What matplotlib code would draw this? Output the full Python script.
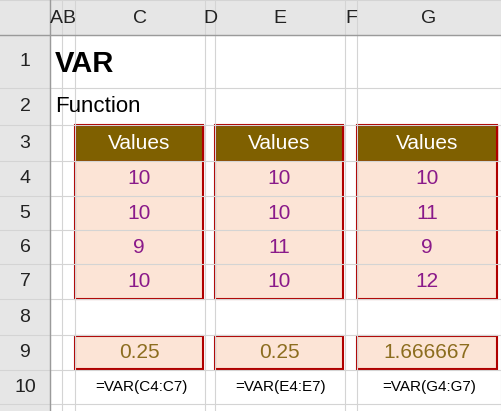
import matplotlib
matplotlib.use("Agg")
import matplotlib.pyplot as plt
from matplotlib.patches import Rectangle

plt.rcParams["font.family"] = ["Liberation Sans", "DejaVu Sans"]

col_names = ["A", "B", "C", "D", "E", "F", "G"]
col_edges = [50, 62, 75, 205, 215, 345, 357, 501]
row_edges = [0, 35, 88, 125, 161, 196, 230, 264, 299, 335, 370, 404, 411]
row_labels = ["1", "2", "3", "4", "5", "6", "7", "8", "9", "10"]

title = "VAR"
subtitle = "Function"
header = "Values"
values_c = [10, 10, 9, 10]
values_e = [10, 10, 11, 10]
values_g = [10, 11, 9, 12]
results = ["0.25", "0.25", "1.666667"]
formulas = ["=VAR(C4:C7)", "=VAR(E4:E7)", "=VAR(G4:G7)"]

GRID = "#d4d4d4"
HEAD_BG = "#e6e6e6"
BORDER = "#b00000"
HEAD_FILL = "#7f6000"
CELL_FILL = "#fce4d6"
PURPLE = "#8a1a8a"
GOLD = "#8c6d1f"

fig = plt.figure(figsize=(5.01, 4.11), dpi=100)
ax = fig.add_axes([0, 0, 1, 1])
ax.set_xlim(0, 501)
ax.set_ylim(411, 0)
ax.axis("off")

# headers
ax.add_patch(Rectangle((0, 0), 501, row_edges[1], color=HEAD_BG, lw=0))
ax.add_patch(Rectangle((0, 0), col_edges[0], 411, color=HEAD_BG, lw=0))
for x in col_edges:
    ax.plot([x, x], [0, 411], color=GRID, lw=0.8)
for y in row_edges[:-1]:
    ax.plot([0, 501], [y, y], color=GRID, lw=0.8)
ax.plot([0, 501], [row_edges[1]] * 2, color="#9a9a9a", lw=1)
ax.plot([col_edges[0]] * 2, [0, 411], color="#9a9a9a", lw=1)
for i, name in enumerate(col_names):
    ax.text((col_edges[i] + col_edges[i + 1]) / 2, row_edges[1] / 2 + 1, name,
            ha="center", va="center", fontsize=14, color="#222222")
for i, lab in enumerate(row_labels):
    ax.text(col_edges[0] / 2, (row_edges[i + 1] + row_edges[i + 2]) / 2, lab,
            ha="center", va="center", fontsize=14, color="#222222")

def rc(r):
    return (row_edges[r] + row_edges[r + 1]) / 2

ax.text(55, rc(1) + 3, title, ha="left", va="center", fontsize=21, fontweight="bold")
ax.text(55, rc(2), subtitle, ha="left", va="center", fontsize=16)

blocks = [(75, 203, values_c), (215, 343, values_e), (357, 497, values_g)]
for k, (x0, x1, vals) in enumerate(blocks):
    w = x1 - x0
    ax.add_patch(Rectangle((x0, row_edges[3]), w, row_edges[4] - row_edges[3],
                           facecolor=HEAD_FILL, edgecolor=BORDER, lw=1))
    ax.text(x0 + w / 2, rc(3), header, ha="center", va="center", fontsize=15, color="white")
    ax.add_patch(Rectangle((x0, row_edges[4]), w, row_edges[8] - row_edges[4],
                           facecolor=CELL_FILL, edgecolor="none"))
    for j, v in enumerate(vals):
        ax.text(x0 + w / 2, rc(4 + j), str(v), ha="center", va="center", fontsize=15, color=PURPLE)
    ax.add_patch(Rectangle((x0, row_edges[3]), w, row_edges[8] - row_edges[3],
                           facecolor="none", edgecolor=BORDER, lw=1.5))
    ax.add_patch(Rectangle((x0, row_edges[9] + 1), w, row_edges[10] - row_edges[9] - 2,
                           facecolor=CELL_FILL, edgecolor=BORDER, lw=1.5))
    ax.text(x0 + w / 2, rc(9), results[k], ha="center", va="center", fontsize=15, color=GOLD)
    ax.text(x0 + w / 2 + 2, rc(10), formulas[k], ha="center", va="center", fontsize=11)

fig.savefig("out.png", dpi=100)
